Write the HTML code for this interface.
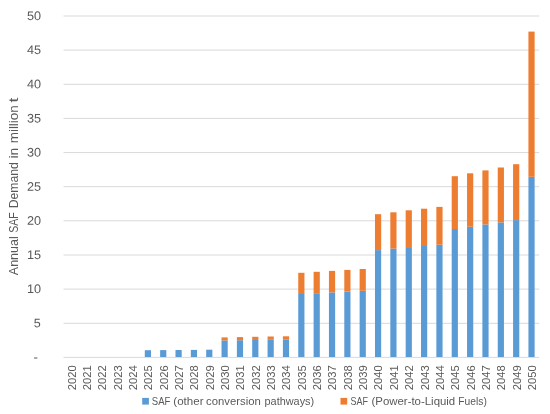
<!DOCTYPE html>
<html><head><meta charset="utf-8"><title>Annual SAF Demand</title>
<style>html,body{margin:0;padding:0;background:#fff}svg{display:block}</style></head>
<body>
<svg width="550" height="414" viewBox="0 0 550 414">
<rect width="550" height="414" fill="#fff"/>
<g stroke="#d9d9d9" stroke-width="1">
<line x1="63.5" x2="539.2" y1="16.0" y2="16.0"/>
<line x1="63.5" x2="539.2" y1="50.1" y2="50.1"/>
<line x1="63.5" x2="539.2" y1="84.3" y2="84.3"/>
<line x1="63.5" x2="539.2" y1="118.4" y2="118.4"/>
<line x1="63.5" x2="539.2" y1="152.6" y2="152.6"/>
<line x1="63.5" x2="539.2" y1="186.7" y2="186.7"/>
<line x1="63.5" x2="539.2" y1="220.8" y2="220.8"/>
<line x1="63.5" x2="539.2" y1="255.0" y2="255.0"/>
<line x1="63.5" x2="539.2" y1="289.1" y2="289.1"/>
<line x1="63.5" x2="539.2" y1="323.3" y2="323.3"/>
<line x1="63.5" x2="539.2" y1="357.4" y2="357.4"/>
</g>
<rect x="144.80" y="350.2" width="6.2" height="6.8" fill="#5b9bd5"/>
<rect x="160.14" y="350.1" width="6.2" height="6.9" fill="#5b9bd5"/>
<rect x="175.49" y="350.0" width="6.2" height="7.0" fill="#5b9bd5"/>
<rect x="190.83" y="349.9" width="6.2" height="7.1" fill="#5b9bd5"/>
<rect x="206.18" y="349.7" width="6.2" height="7.3" fill="#5b9bd5"/>
<rect x="221.52" y="340.4" width="6.2" height="16.6" fill="#5b9bd5"/>
<rect x="221.52" y="337.4" width="6.2" height="3.0" fill="#ed7d31"/>
<rect x="236.87" y="340.2" width="6.2" height="16.8" fill="#5b9bd5"/>
<rect x="236.87" y="337.1" width="6.2" height="3.1" fill="#ed7d31"/>
<rect x="252.21" y="340.0" width="6.2" height="17.0" fill="#5b9bd5"/>
<rect x="252.21" y="336.8" width="6.2" height="3.2" fill="#ed7d31"/>
<rect x="267.56" y="339.8" width="6.2" height="17.2" fill="#5b9bd5"/>
<rect x="267.56" y="336.5" width="6.2" height="3.3" fill="#ed7d31"/>
<rect x="282.90" y="339.7" width="6.2" height="17.3" fill="#5b9bd5"/>
<rect x="282.90" y="336.3" width="6.2" height="3.4" fill="#ed7d31"/>
<rect x="298.25" y="294.0" width="6.2" height="63.0" fill="#5b9bd5"/>
<rect x="298.25" y="272.8" width="6.2" height="21.2" fill="#ed7d31"/>
<rect x="313.60" y="293.2" width="6.2" height="63.8" fill="#5b9bd5"/>
<rect x="313.60" y="271.8" width="6.2" height="21.4" fill="#ed7d31"/>
<rect x="328.94" y="292.4" width="6.2" height="64.6" fill="#5b9bd5"/>
<rect x="328.94" y="270.9" width="6.2" height="21.5" fill="#ed7d31"/>
<rect x="344.29" y="291.6" width="6.2" height="65.4" fill="#5b9bd5"/>
<rect x="344.29" y="269.9" width="6.2" height="21.7" fill="#ed7d31"/>
<rect x="359.63" y="290.8" width="6.2" height="66.2" fill="#5b9bd5"/>
<rect x="359.63" y="269.0" width="6.2" height="21.8" fill="#ed7d31"/>
<rect x="374.98" y="250.1" width="6.2" height="106.9" fill="#5b9bd5"/>
<rect x="374.98" y="214.2" width="6.2" height="35.9" fill="#ed7d31"/>
<rect x="390.32" y="248.6" width="6.2" height="108.4" fill="#5b9bd5"/>
<rect x="390.32" y="212.3" width="6.2" height="36.3" fill="#ed7d31"/>
<rect x="405.67" y="247.1" width="6.2" height="109.9" fill="#5b9bd5"/>
<rect x="405.67" y="210.3" width="6.2" height="36.8" fill="#ed7d31"/>
<rect x="421.01" y="246.0" width="6.2" height="111.0" fill="#5b9bd5"/>
<rect x="421.01" y="208.7" width="6.2" height="37.3" fill="#ed7d31"/>
<rect x="436.36" y="244.7" width="6.2" height="112.3" fill="#5b9bd5"/>
<rect x="436.36" y="206.9" width="6.2" height="37.8" fill="#ed7d31"/>
<rect x="451.70" y="229.0" width="6.2" height="128.0" fill="#5b9bd5"/>
<rect x="451.70" y="176.2" width="6.2" height="52.8" fill="#ed7d31"/>
<rect x="467.05" y="226.7" width="6.2" height="130.3" fill="#5b9bd5"/>
<rect x="467.05" y="173.3" width="6.2" height="53.4" fill="#ed7d31"/>
<rect x="482.39" y="224.4" width="6.2" height="132.6" fill="#5b9bd5"/>
<rect x="482.39" y="170.4" width="6.2" height="54.0" fill="#ed7d31"/>
<rect x="497.74" y="222.4" width="6.2" height="134.6" fill="#5b9bd5"/>
<rect x="497.74" y="167.5" width="6.2" height="54.9" fill="#ed7d31"/>
<rect x="513.08" y="220.1" width="6.2" height="136.9" fill="#5b9bd5"/>
<rect x="513.08" y="164.2" width="6.2" height="55.9" fill="#ed7d31"/>
<rect x="528.43" y="176.8" width="6.2" height="180.2" fill="#5b9bd5"/>
<rect x="528.43" y="31.6" width="6.2" height="145.2" fill="#ed7d31"/>
<g font-family="'Liberation Sans', sans-serif" font-size="12" fill="#595959">
<text x="27.0" y="20.0" font-size="12.4" transform="rotate(0.03 34 20.0)" textLength="14.1" lengthAdjust="spacingAndGlyphs">50</text>
<text x="27.0" y="54.1" font-size="12.4" transform="rotate(0.03 34 54.1)" textLength="14.1" lengthAdjust="spacingAndGlyphs">45</text>
<text x="27.0" y="88.3" font-size="12.4" transform="rotate(0.03 34 88.3)" textLength="14.1" lengthAdjust="spacingAndGlyphs">40</text>
<text x="27.0" y="122.4" font-size="12.4" transform="rotate(0.03 34 122.4)" textLength="14.1" lengthAdjust="spacingAndGlyphs">35</text>
<text x="27.0" y="156.6" font-size="12.4" transform="rotate(0.03 34 156.6)" textLength="14.1" lengthAdjust="spacingAndGlyphs">30</text>
<text x="27.0" y="190.7" font-size="12.4" transform="rotate(0.03 34 190.7)" textLength="14.1" lengthAdjust="spacingAndGlyphs">25</text>
<text x="27.0" y="224.8" font-size="12.4" transform="rotate(0.03 34 224.8)" textLength="14.1" lengthAdjust="spacingAndGlyphs">20</text>
<text x="27.0" y="259.0" font-size="12.4" transform="rotate(0.03 34 259.0)" textLength="14.1" lengthAdjust="spacingAndGlyphs">15</text>
<text x="27.0" y="293.1" font-size="12.4" transform="rotate(0.03 34 293.1)" textLength="14.1" lengthAdjust="spacingAndGlyphs">10</text>
<text x="33.8" y="327.3" font-size="12.4" transform="rotate(0.03 34 327.3)" textLength="7.0" lengthAdjust="spacingAndGlyphs">5</text>
<text x="33.6" y="361.3" transform="rotate(0.05 35 361.3)" textLength="4.4" lengthAdjust="spacingAndGlyphs">-</text>
<text transform="translate(75.57 365.2) rotate(-90)" text-anchor="end" font-size="11.5" textLength="25.0" lengthAdjust="spacingAndGlyphs">2020</text>
<text transform="translate(90.92 365.2) rotate(-90)" text-anchor="end" font-size="11.5" textLength="25.0" lengthAdjust="spacingAndGlyphs">2021</text>
<text transform="translate(106.26 365.2) rotate(-90)" text-anchor="end" font-size="11.5" textLength="25.0" lengthAdjust="spacingAndGlyphs">2022</text>
<text transform="translate(121.61 365.2) rotate(-90)" text-anchor="end" font-size="11.5" textLength="25.0" lengthAdjust="spacingAndGlyphs">2023</text>
<text transform="translate(136.95 365.2) rotate(-90)" text-anchor="end" font-size="11.5" textLength="25.0" lengthAdjust="spacingAndGlyphs">2024</text>
<text transform="translate(152.30 365.2) rotate(-90)" text-anchor="end" font-size="11.5" textLength="25.0" lengthAdjust="spacingAndGlyphs">2025</text>
<text transform="translate(167.64 365.2) rotate(-90)" text-anchor="end" font-size="11.5" textLength="25.0" lengthAdjust="spacingAndGlyphs">2026</text>
<text transform="translate(182.99 365.2) rotate(-90)" text-anchor="end" font-size="11.5" textLength="25.0" lengthAdjust="spacingAndGlyphs">2027</text>
<text transform="translate(198.33 365.2) rotate(-90)" text-anchor="end" font-size="11.5" textLength="25.0" lengthAdjust="spacingAndGlyphs">2028</text>
<text transform="translate(213.68 365.2) rotate(-90)" text-anchor="end" font-size="11.5" textLength="25.0" lengthAdjust="spacingAndGlyphs">2029</text>
<text transform="translate(229.02 365.2) rotate(-90)" text-anchor="end" font-size="11.5" textLength="25.0" lengthAdjust="spacingAndGlyphs">2030</text>
<text transform="translate(244.37 365.2) rotate(-90)" text-anchor="end" font-size="11.5" textLength="25.0" lengthAdjust="spacingAndGlyphs">2031</text>
<text transform="translate(259.71 365.2) rotate(-90)" text-anchor="end" font-size="11.5" textLength="25.0" lengthAdjust="spacingAndGlyphs">2032</text>
<text transform="translate(275.06 365.2) rotate(-90)" text-anchor="end" font-size="11.5" textLength="25.0" lengthAdjust="spacingAndGlyphs">2033</text>
<text transform="translate(290.40 365.2) rotate(-90)" text-anchor="end" font-size="11.5" textLength="25.0" lengthAdjust="spacingAndGlyphs">2034</text>
<text transform="translate(305.75 365.2) rotate(-90)" text-anchor="end" font-size="11.5" textLength="25.0" lengthAdjust="spacingAndGlyphs">2035</text>
<text transform="translate(321.10 365.2) rotate(-90)" text-anchor="end" font-size="11.5" textLength="25.0" lengthAdjust="spacingAndGlyphs">2036</text>
<text transform="translate(336.44 365.2) rotate(-90)" text-anchor="end" font-size="11.5" textLength="25.0" lengthAdjust="spacingAndGlyphs">2037</text>
<text transform="translate(351.79 365.2) rotate(-90)" text-anchor="end" font-size="11.5" textLength="25.0" lengthAdjust="spacingAndGlyphs">2038</text>
<text transform="translate(367.13 365.2) rotate(-90)" text-anchor="end" font-size="11.5" textLength="25.0" lengthAdjust="spacingAndGlyphs">2039</text>
<text transform="translate(382.48 365.2) rotate(-90)" text-anchor="end" font-size="11.5" textLength="25.0" lengthAdjust="spacingAndGlyphs">2040</text>
<text transform="translate(397.82 365.2) rotate(-90)" text-anchor="end" font-size="11.5" textLength="25.0" lengthAdjust="spacingAndGlyphs">2041</text>
<text transform="translate(413.17 365.2) rotate(-90)" text-anchor="end" font-size="11.5" textLength="25.0" lengthAdjust="spacingAndGlyphs">2042</text>
<text transform="translate(428.51 365.2) rotate(-90)" text-anchor="end" font-size="11.5" textLength="25.0" lengthAdjust="spacingAndGlyphs">2043</text>
<text transform="translate(443.86 365.2) rotate(-90)" text-anchor="end" font-size="11.5" textLength="25.0" lengthAdjust="spacingAndGlyphs">2044</text>
<text transform="translate(459.20 365.2) rotate(-90)" text-anchor="end" font-size="11.5" textLength="25.0" lengthAdjust="spacingAndGlyphs">2045</text>
<text transform="translate(474.55 365.2) rotate(-90)" text-anchor="end" font-size="11.5" textLength="25.0" lengthAdjust="spacingAndGlyphs">2046</text>
<text transform="translate(489.89 365.2) rotate(-90)" text-anchor="end" font-size="11.5" textLength="25.0" lengthAdjust="spacingAndGlyphs">2047</text>
<text transform="translate(505.24 365.2) rotate(-90)" text-anchor="end" font-size="11.5" textLength="25.0" lengthAdjust="spacingAndGlyphs">2048</text>
<text transform="translate(520.58 365.2) rotate(-90)" text-anchor="end" font-size="11.5" textLength="25.0" lengthAdjust="spacingAndGlyphs">2049</text>
<text transform="translate(535.93 365.2) rotate(-90)" text-anchor="end" font-size="11.5" textLength="25.0" lengthAdjust="spacingAndGlyphs">2050</text>
<text transform="translate(17.9 274.8) rotate(-90)" font-size="12.2"><tspan x="-0.40" textLength="38.90" lengthAdjust="spacingAndGlyphs">Annual</tspan> <tspan x="42.10" textLength="20.50" lengthAdjust="spacingAndGlyphs">SAF</tspan> <tspan x="66.50" textLength="46.10" lengthAdjust="spacingAndGlyphs">Demand</tspan> <tspan x="116.20" textLength="10.80" lengthAdjust="spacingAndGlyphs">in</tspan> <tspan x="131.50" textLength="38.10" lengthAdjust="spacingAndGlyphs">million</tspan> <tspan x="172.40" textLength="4.90" lengthAdjust="spacingAndGlyphs">t</tspan></text>
<text y="404.8" font-size="11.6"><tspan x="151.80" textLength="18.60" lengthAdjust="spacingAndGlyphs">SAF</tspan> <tspan x="173.30" textLength="30.20" lengthAdjust="spacingAndGlyphs">(other</tspan> <tspan x="206.10" textLength="54.70" lengthAdjust="spacingAndGlyphs">conversion</tspan> <tspan x="264.50" textLength="49.70" lengthAdjust="spacingAndGlyphs">pathways)</tspan></text>
<text y="404.8" font-size="11.6"><tspan x="350.60" textLength="17.50" lengthAdjust="spacingAndGlyphs">SAF</tspan> <tspan x="371.50" textLength="83.70" lengthAdjust="spacingAndGlyphs">(Power-to-Liquid</tspan> <tspan x="458.30" textLength="28.60" lengthAdjust="spacingAndGlyphs">Fuels)</tspan></text>
</g>
<rect x="142.2" y="397.9" width="6.7" height="6.7" fill="#5b9bd5"/>
<rect x="340.5" y="397.9" width="6.7" height="6.7" fill="#ed7d31"/>
</svg>
</body></html>
